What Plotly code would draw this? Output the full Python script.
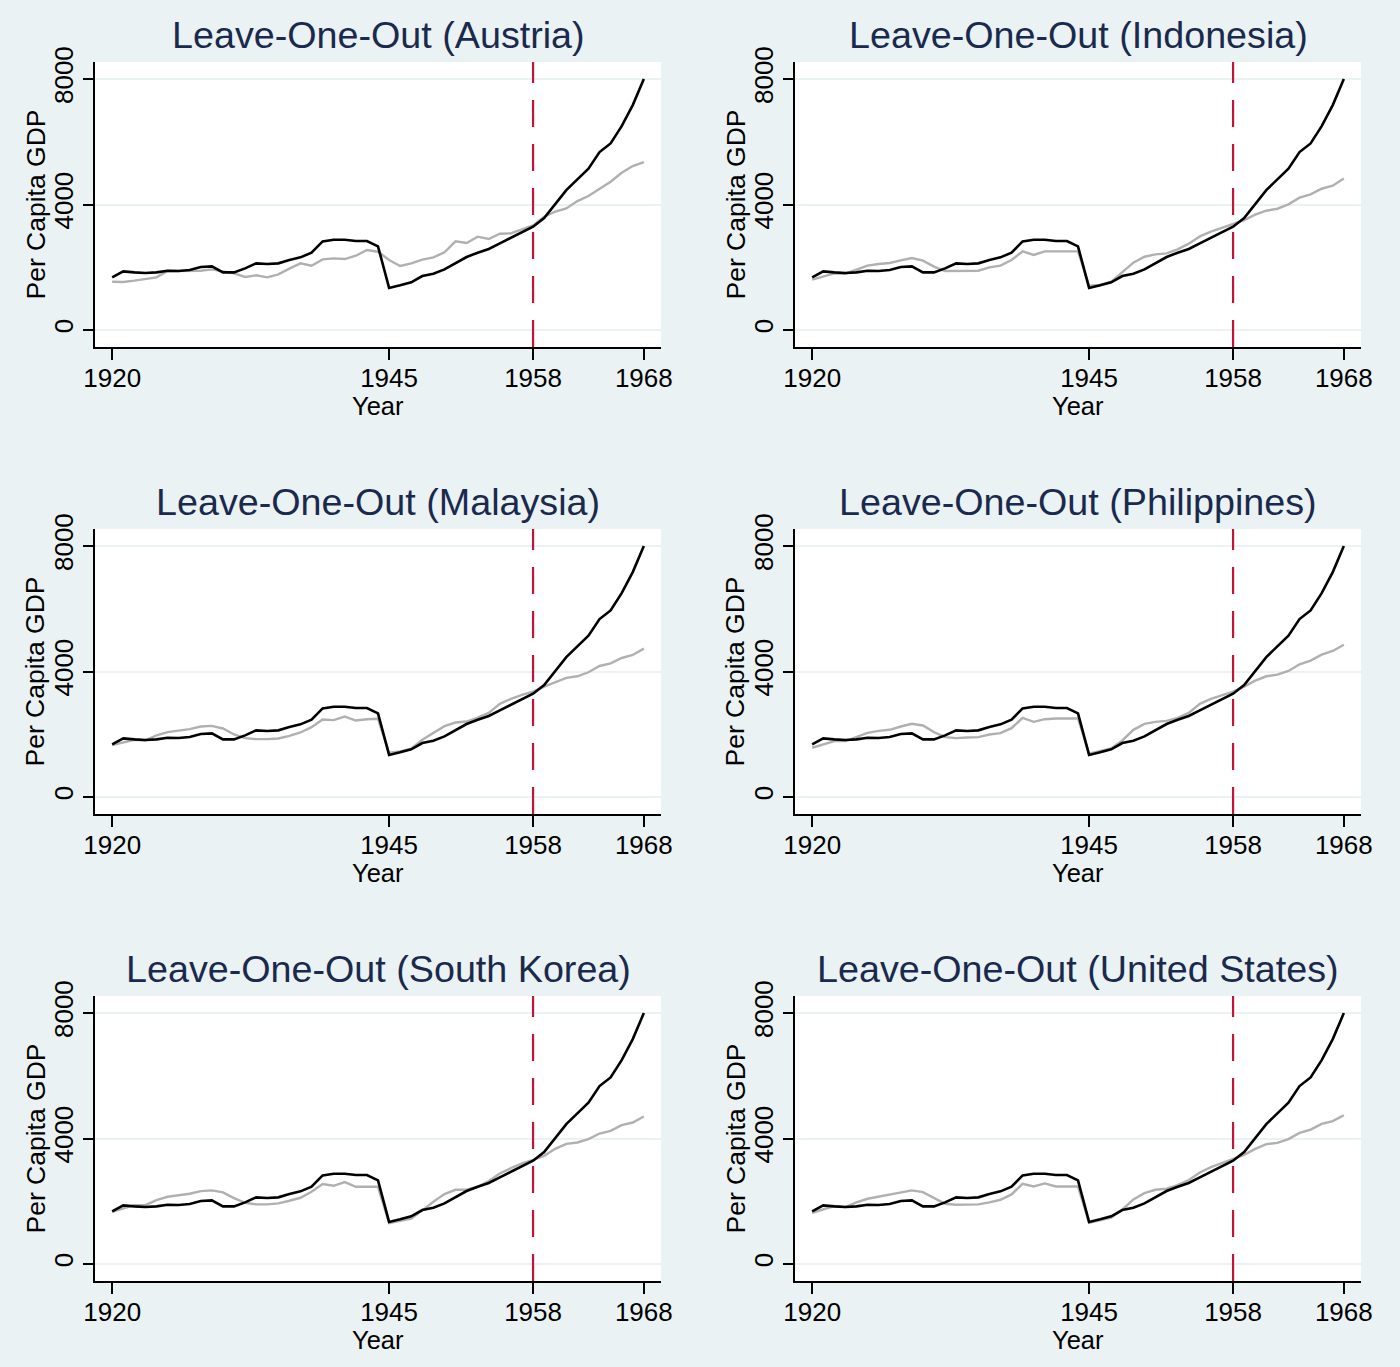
import plotly.graph_objects as go

years = list(range(1920, 1969))
treat_year = 1958

actual = [1678, 1869, 1837, 1816, 1837, 1890, 1880, 1912, 2007, 2028,
          1837, 1837, 1965, 2124, 2103, 2124, 2230, 2315, 2464, 2825,
          2878, 2878, 2836, 2836, 2666, 1340, 1423, 1519, 1720, 1795,
          1933, 2124, 2326, 2464, 2581, 2761, 2931, 3122, 3292, 3568,
          4025, 4460, 4800, 5140, 5671, 5947, 6499, 7168, 7997]

synth_austria = [1540, 1529, 1572, 1635, 1678, 1880, 1880, 1869, 1890, 1933,
                 1859, 1805, 1689, 1742, 1678, 1774, 1954, 2124, 2050, 2251,
                 2283, 2262, 2368, 2549, 2496, 2230, 2039, 2124, 2241, 2315,
                 2475, 2825, 2772, 2974, 2899, 3069, 3080, 3218, 3335, 3611,
                 3770, 3876, 4110, 4269, 4492, 4726, 5013, 5225, 5352]

synth_indonesia = [1604, 1699, 1805, 1795, 1933, 2050, 2103, 2135, 2220, 2294,
                   2209, 2018, 1880, 1880, 1901, 1890, 1997, 2050, 2230, 2506,
                   2390, 2506, 2506, 2506, 2506, 1412, 1434, 1540, 1837, 2145,
                   2336, 2411, 2443, 2570, 2751, 2984, 3133, 3260, 3367, 3505,
                   3675, 3802, 3865, 4004, 4216, 4322, 4503, 4599, 4832]

synth_malaysia = [1654, 1728, 1823, 1802, 1961, 2067, 2109, 2162, 2247, 2268,
                  2184, 1993, 1876, 1844, 1844, 1866, 1950, 2056, 2226, 2470,
                  2449, 2565, 2438, 2480, 2491, 1410, 1452, 1537, 1823, 2046,
                  2258, 2374, 2406, 2533, 2682, 2968, 3127, 3254, 3360, 3519,
                  3668, 3795, 3848, 3975, 4176, 4261, 4431, 4526, 4728]

synth_philippines = [1569, 1664, 1781, 1781, 1908, 2046, 2109, 2141, 2247, 2332,
                     2279, 2067, 1908, 1876, 1897, 1908, 1993, 2035, 2194, 2523,
                     2396, 2480, 2502, 2502, 2502, 1378, 1452, 1548, 1802, 2141,
                     2332, 2396, 2427, 2523, 2682, 2968, 3127, 3254, 3360, 3519,
                     3710, 3848, 3901, 4017, 4229, 4346, 4537, 4653, 4855]

synth_south_korea = [1666, 1772, 1878, 1878, 2037, 2143, 2186, 2239, 2324, 2345,
                     2281, 2101, 1952, 1899, 1899, 1931, 2016, 2111, 2302, 2546,
                     2493, 2610, 2461, 2461, 2461, 1305, 1369, 1443, 1708, 1984,
                     2228, 2366, 2366, 2461, 2642, 2886, 3056, 3204, 3321, 3448,
                     3671, 3830, 3873, 3979, 4159, 4244, 4424, 4509, 4700]

synth_united_states = [1634, 1740, 1846, 1814, 1963, 2080, 2143, 2196, 2281, 2345,
                       2292, 2111, 1920, 1889, 1889, 1899, 1963, 2048, 2217, 2557,
                       2472, 2568, 2472, 2472, 2472, 1316, 1390, 1475, 1729, 2058,
                       2260, 2366, 2398, 2515, 2674, 2918, 3088, 3215, 3342, 3480,
                       3671, 3820, 3862, 3979, 4180, 4286, 4467, 4552, 4743]

countries = ["Austria", "Indonesia", "Malaysia", "Philippines", "South Korea", "United States"]
synths = [synth_austria, synth_indonesia, synth_malaysia, synth_philippines,
          synth_south_korea, synth_united_states]

x_ticks = [1920, 1945, 1958, 1968]
y_ticks = [0, 4000, 8000]
y_tick_text = ["0", "4000", "8000"]

W, H = 1400, 1367
FONT = "Liberation Sans, Arial, Helvetica, sans-serif"
BG = "#EAF2F3"
TITLE_COLOR = "#1A2A4E"

fig = go.Figure()
layout = {}
annotations = []
shapes = []

col_left = [95, 795]
plot_w = 566
row_top = [62, 529, 996]
plot_h = 285

for i, (name, syn) in enumerate(zip(countries, synths)):
    r, c = divmod(i, 2)
    n = i + 1
    xa = "x" if n == 1 else f"x{n}"
    ya = "y" if n == 1 else f"y{n}"
    fig.add_trace(go.Scatter(x=years, y=syn, mode="lines", xaxis=xa, yaxis=ya,
                             line=dict(color="#B0B0B0", width=2.4), showlegend=False))
    fig.add_trace(go.Scatter(x=years, y=actual, mode="lines", xaxis=xa, yaxis=ya,
                             line=dict(color="#000000", width=2.6), showlegend=False))
    x0 = col_left[c] / W
    x1 = (col_left[c] + plot_w) / W
    y1 = 1 - row_top[r] / H
    y0 = 1 - (row_top[r] + plot_h) / H
    layout[f"xaxis{'' if n == 1 else n}"] = dict(
        domain=[x0, x1], anchor=ya, range=[1918.45, 1969.55], automargin=False,
        tickmode="array", tickvals=x_ticks, ticktext=[str(t) for t in x_ticks],
        ticks="outside", ticklen=11, tickwidth=1.5, tickcolor="black",
        ticklabelstandoff=-4,
        showline=True, linecolor="black", linewidth=1.5, mirror=False,
        showgrid=False, zeroline=False,
        tickfont=dict(family=FONT, size=26, color="black"))
    layout[f"yaxis{'' if n == 1 else n}"] = dict(
        domain=[y0, y1], anchor=xa, range=[-542, 8542], automargin=False,
        tickmode="array", tickvals=y_ticks, ticktext=y_tick_text, tickangle=-90,
        ticks="outside", ticklen=10, tickwidth=1.5, tickcolor="black",
        showline=True, linecolor="black", linewidth=1.5,
        showgrid=True, gridcolor=BG, gridwidth=2, zeroline=False,
        tickfont=dict(family=FONT, size=26, color="black"))
    shapes.append(dict(type="line", xref=xa, yref=f"{ya} domain", x0=treat_year, x1=treat_year,
                       y0=0, y1=1, line=dict(color="#C1133B", width=2.2, dash="27px,17px")))
    cx = (col_left[c] + plot_w / 2) / W
    annotations.append(dict(text=f"Leave-One-Out ({name})", x=cx, y=1 - (35 + 467 * r) / H,
                            xref="paper", yref="paper", xanchor="center", yanchor="middle",
                            showarrow=False, font=dict(family=FONT, size=37.7, color=TITLE_COLOR)))
    annotations.append(dict(text="Year", x=cx, y=1 - (406 + 467 * r) / H,
                            xref="paper", yref="paper", xanchor="center", yanchor="middle",
                            showarrow=False, font=dict(family=FONT, size=25.5, color="black")))
    annotations.append(dict(text="Per Capita GDP", x=(35 + 700 * c) / W,
                            y=1 - (row_top[r] + plot_h / 2) / H,
                            xref="paper", yref="paper", xanchor="center", yanchor="middle",
                            textangle=-90, showarrow=False,
                            font=dict(family=FONT, size=26.5, color="black")))

fig.update_layout(
    width=W, height=H, margin=dict(l=0, r=0, t=0, b=0, autoexpand=False),
    paper_bgcolor=BG, plot_bgcolor="white",
    annotations=annotations, shapes=shapes, **layout)

fig.write_html("out.html")
